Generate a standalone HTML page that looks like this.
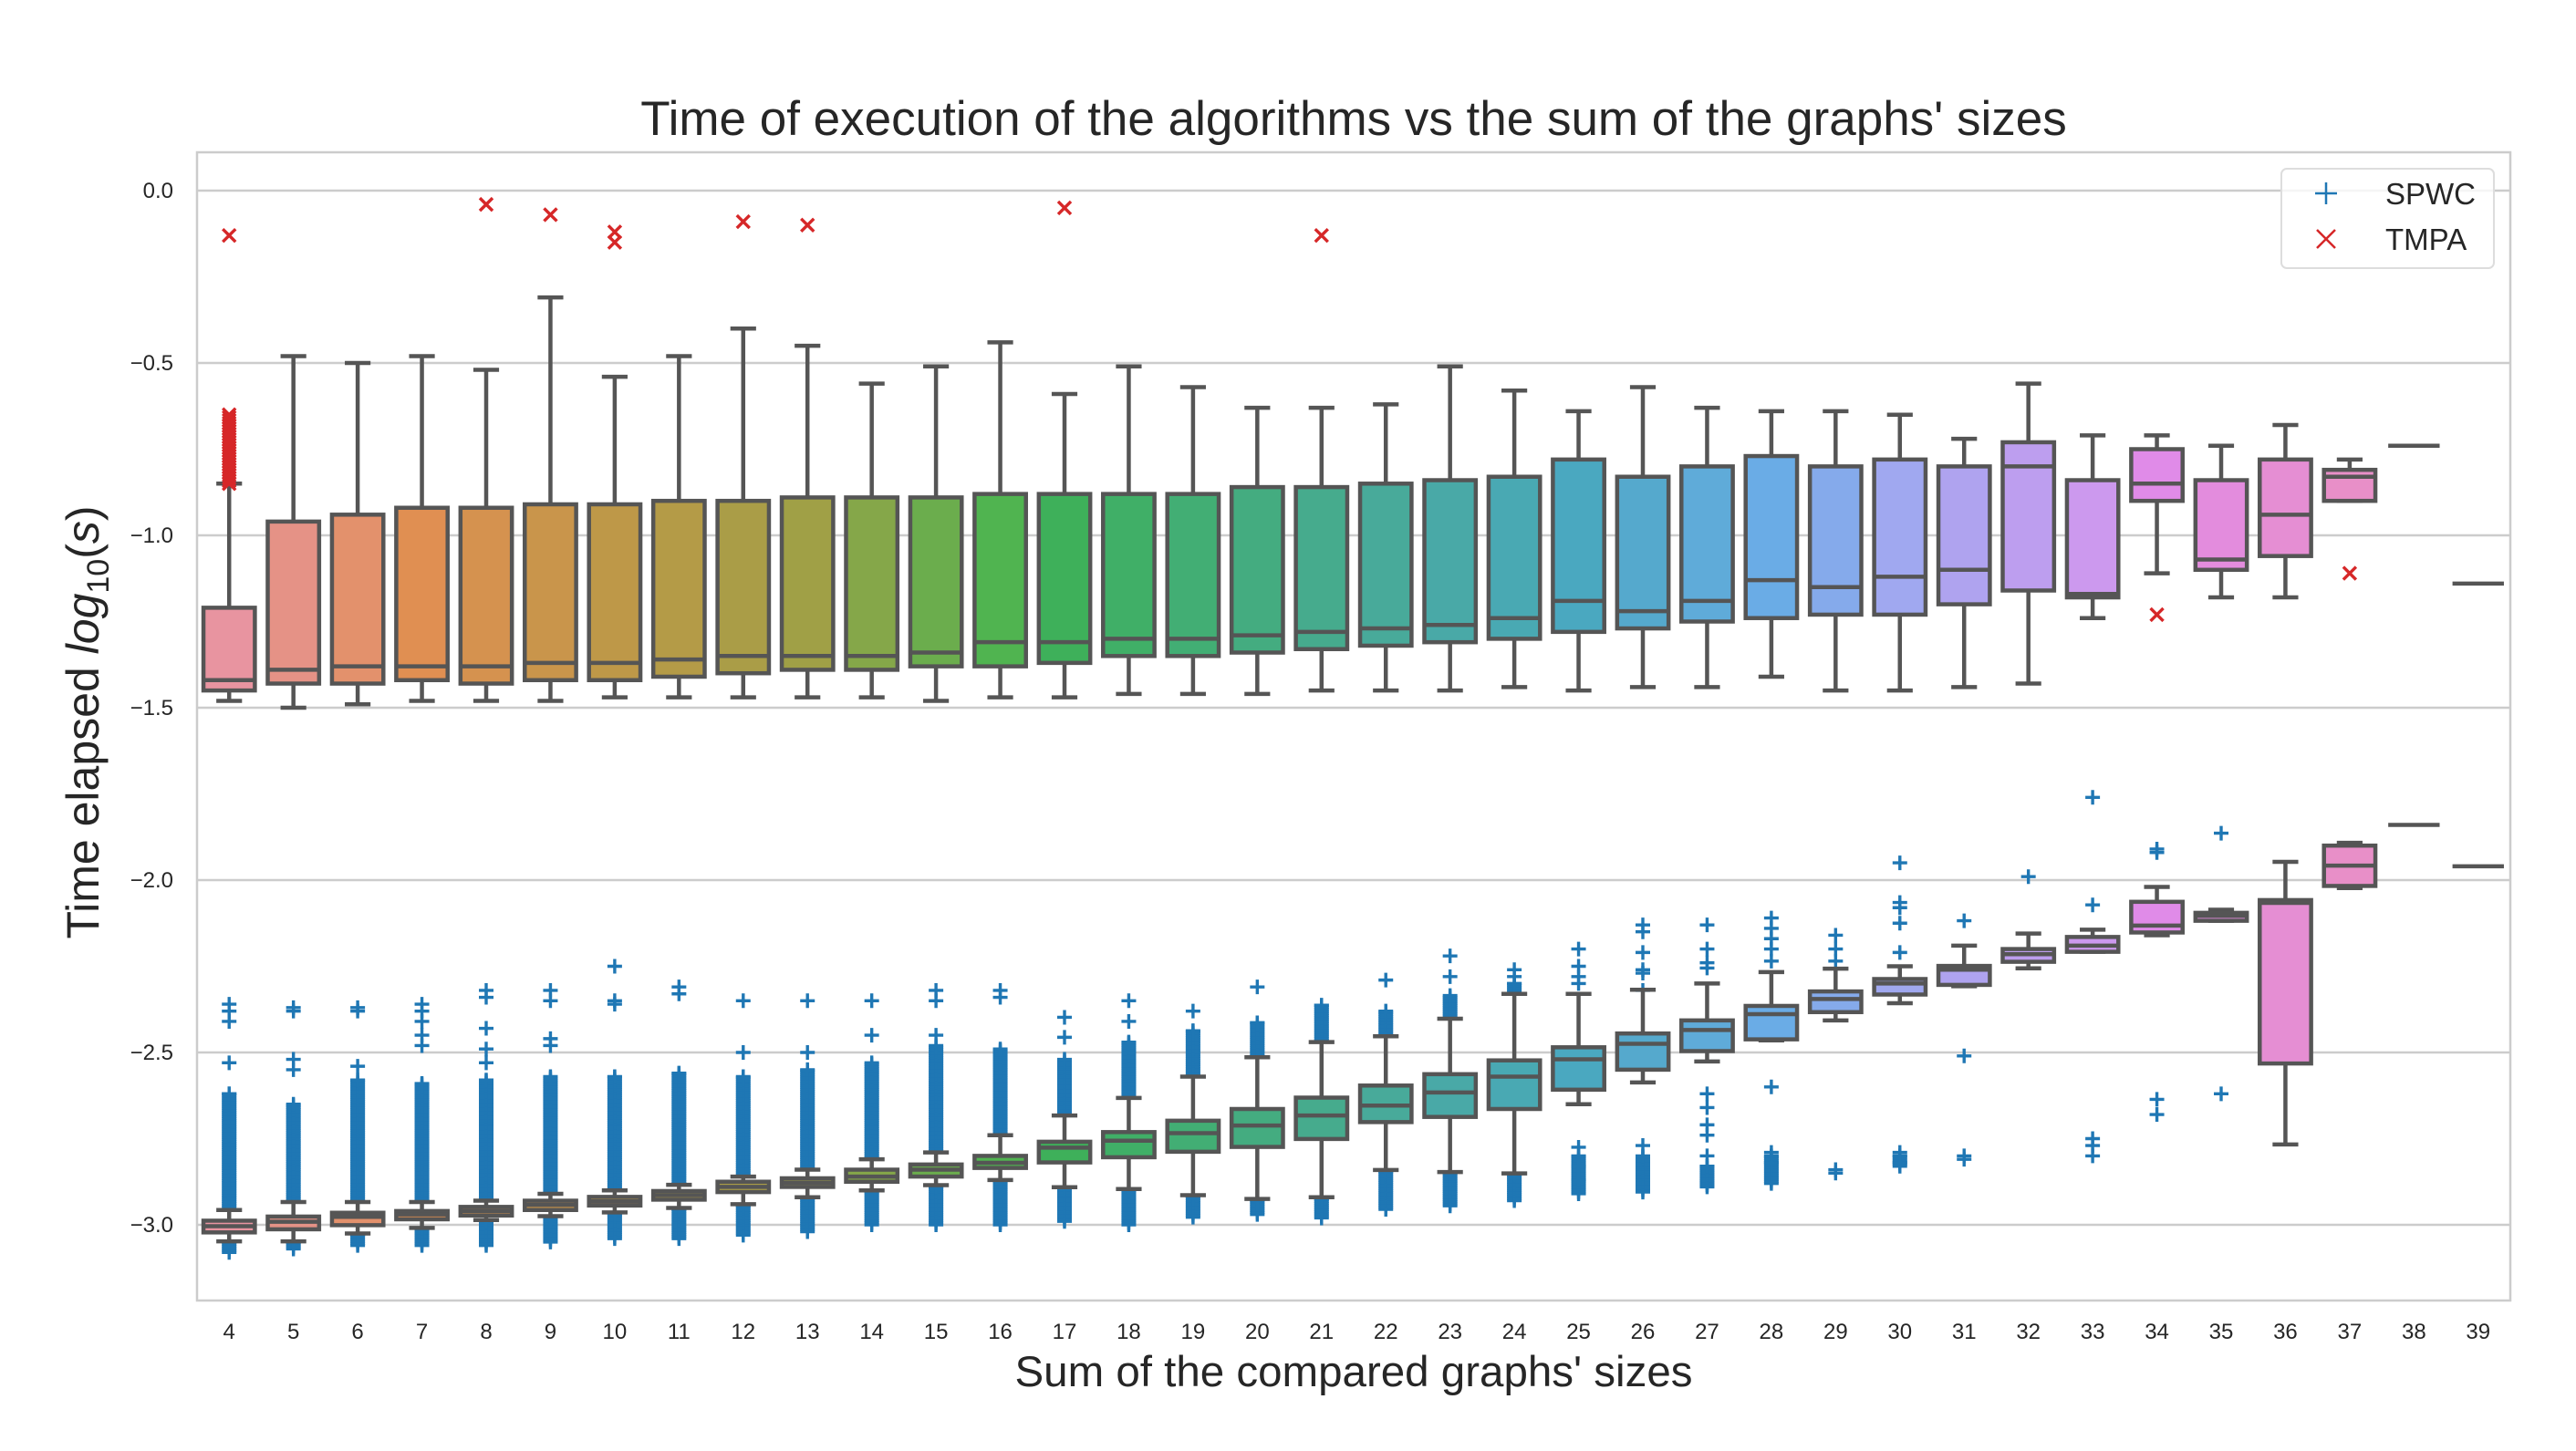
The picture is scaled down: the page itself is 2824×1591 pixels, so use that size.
<!DOCTYPE html>
<html><head><meta charset="utf-8"><style>
html,body{margin:0;padding:0;background:#fff;}
svg{display:block;font-family:"Liberation Sans",sans-serif;}
</style></head><body>
<svg id="chart" width="2824" height="1591" viewBox="0 0 2824 1591" xmlns="http://www.w3.org/2000/svg">
<rect x="0" y="0" width="2824" height="1591" fill="#fff"/>
<text x="1484" y="148" font-size="53" text-anchor="middle" fill="#262626">Time of execution of the algorithms vs the sum of the graphs' sizes</text>
<text transform="translate(108,792) rotate(-90)" font-size="50" text-anchor="middle" fill="#262626">Time elapsed <tspan font-style="italic">log</tspan><tspan font-size="34" dy="11">10</tspan><tspan dy="-11">(</tspan><tspan font-style="italic">s</tspan>)</text>
<text x="1484" y="1520" font-size="47.5" text-anchor="middle" fill="#262626">Sum of the compared graphs' sizes</text>
<g id="grid"></g>
<g id="marks"></g>
<g id="ticks"></g>
<rect x="216" y="167" width="2536" height="1259" fill="none" stroke="#cccccc" stroke-width="2.5"/>
<g>
<rect x="2501" y="185" width="233" height="109" rx="6" fill="#fff" fill-opacity="0.8" stroke="#dddddd" stroke-width="2"/>
<g>
<path d="M2538,212 h24 M2550,200 v24" stroke="#1f77b4" stroke-width="2.5"/>
<text x="2615" y="224" font-size="33" fill="#262626">SPWC</text></g>
<g>
<path d="M2540,252 l20,20 M2560,252 l-20,20" stroke="#d62728" stroke-width="2.5"/>
<text x="2615" y="274" font-size="33" fill="#262626">TMPA</text></g>
</g>
</svg>
<script>
const categories = [4,5,6,7,8,9,10,11,12,13,14,15,16,17,18,19,20,21,22,23,24,25,26,27,28,29,30,31,32,33,34,35,36,37,38,39];
const yTicks = [0.0,-0.5,-1.0,-1.5,-2.0,-2.5,-3.0];
const yTickLabels = ["0.0","\u22120.5","\u22121.0","\u22121.5","\u22122.0","\u22122.5","\u22123.0"];
const tmpaWhiskerLow = [-1.48,-1.50,-1.49,-1.48,-1.48,-1.48,-1.47,-1.47,-1.47,-1.47,-1.47,-1.48,-1.47,-1.47,-1.46,-1.46,-1.46,-1.45,-1.45,-1.45,-1.44,-1.45,-1.44,-1.44,-1.41,-1.45,-1.45,-1.44,-1.43,-1.24,-1.11,-1.18,-1.18,-0.90,-0.74,-1.14];
const tmpaQ1 = [-1.45,-1.43,-1.43,-1.42,-1.43,-1.42,-1.42,-1.41,-1.40,-1.39,-1.39,-1.38,-1.38,-1.37,-1.35,-1.35,-1.34,-1.33,-1.32,-1.31,-1.30,-1.28,-1.27,-1.25,-1.24,-1.23,-1.23,-1.20,-1.16,-1.18,-0.90,-1.10,-1.06,-0.90,-0.74,-1.14];
const tmpaMedian = [-1.42,-1.39,-1.38,-1.38,-1.38,-1.37,-1.37,-1.36,-1.35,-1.35,-1.35,-1.34,-1.31,-1.31,-1.30,-1.30,-1.29,-1.28,-1.27,-1.26,-1.24,-1.19,-1.22,-1.19,-1.13,-1.15,-1.12,-1.10,-0.80,-1.17,-0.85,-1.07,-0.94,-0.83,-0.74,-1.14];
const tmpaQ3 = [-1.21,-0.96,-0.94,-0.92,-0.92,-0.91,-0.91,-0.90,-0.90,-0.89,-0.89,-0.89,-0.88,-0.88,-0.88,-0.88,-0.86,-0.86,-0.85,-0.84,-0.83,-0.78,-0.83,-0.80,-0.77,-0.80,-0.78,-0.80,-0.73,-0.84,-0.75,-0.84,-0.78,-0.81,-0.74,-1.14];
const tmpaWhiskerHigh = [-0.85,-0.48,-0.50,-0.48,-0.52,-0.31,-0.54,-0.48,-0.40,-0.45,-0.56,-0.51,-0.44,-0.59,-0.51,-0.57,-0.63,-0.63,-0.62,-0.51,-0.58,-0.64,-0.57,-0.63,-0.64,-0.64,-0.65,-0.72,-0.56,-0.71,-0.71,-0.74,-0.68,-0.78,-0.74,-1.14];
const tmpaOutliers = [[0,-0.13],[4,-0.04],[5,-0.07],[6,-0.12],[6,-0.15],[8,-0.09],[9,-0.10],[13,-0.05],[17,-0.13],[30,-1.23],[33,-1.11]];
const tmpaDense = [[0,-0.85,-0.65]];
const spwcWhiskerLow = [-3.048,-3.048,-3.025,-3.009,-2.986,-2.975,-2.964,-2.951,-2.94,-2.92,-2.90,-2.885,-2.87,-2.891,-2.896,-2.914,-2.925,-2.92,-2.841,-2.847,-2.851,-2.65,-2.587,-2.526,-2.465,-2.407,-2.357,-2.308,-2.256,-2.208,-2.16,-2.118,-2.767,-2.023,-1.84,-1.96];
const spwcQ1 = [-3.022,-3.013,-3.001,-2.984,-2.973,-2.957,-2.944,-2.927,-2.905,-2.89,-2.875,-2.86,-2.835,-2.819,-2.804,-2.788,-2.774,-2.751,-2.702,-2.687,-2.664,-2.608,-2.55,-2.496,-2.462,-2.383,-2.332,-2.304,-2.237,-2.208,-2.152,-2.118,-2.532,-2.017,-1.84,-1.96];
const spwcMedian = [-3.004,-2.991,-2.977,-2.97,-2.96,-2.942,-2.932,-2.914,-2.89,-2.878,-2.86,-2.84,-2.82,-2.776,-2.756,-2.734,-2.712,-2.683,-2.654,-2.616,-2.57,-2.52,-2.475,-2.435,-2.389,-2.345,-2.30,-2.26,-2.215,-2.19,-2.132,-2.104,-2.066,-1.958,-1.84,-1.96];
const spwcQ3 = [-2.988,-2.976,-2.965,-2.96,-2.948,-2.93,-2.919,-2.902,-2.875,-2.865,-2.84,-2.825,-2.80,-2.759,-2.731,-2.698,-2.664,-2.631,-2.596,-2.563,-2.523,-2.485,-2.445,-2.407,-2.365,-2.323,-2.287,-2.249,-2.20,-2.165,-2.063,-2.095,-2.058,-1.90,-1.84,-1.96];
const spwcWhiskerHigh = [-2.957,-2.934,-2.934,-2.934,-2.93,-2.91,-2.90,-2.884,-2.86,-2.84,-2.81,-2.79,-2.74,-2.683,-2.632,-2.57,-2.514,-2.47,-2.453,-2.402,-2.33,-2.33,-2.318,-2.30,-2.267,-2.257,-2.25,-2.19,-2.155,-2.144,-2.02,-2.086,-1.947,-1.892,-1.84,-1.96];
const spwcDense = [[0,-2.95,-2.62],[0,-3.08,-3.05],[1,-2.93,-2.65],[1,-3.07,-3.05],[2,-2.93,-2.58],[2,-3.06,-3.03],[3,-2.93,-2.59],[3,-3.06,-3.01],[4,-2.925,-2.58],[4,-3.06,-2.99],[5,-2.905,-2.57],[5,-3.05,-2.98],[6,-2.895,-2.57],[6,-3.04,-2.97],[7,-2.88,-2.56],[7,-3.04,-2.955],[8,-2.855,-2.57],[8,-3.03,-2.945],[9,-2.835,-2.55],[9,-3.02,-2.925],[10,-2.805,-2.53],[10,-3.0,-2.905],[11,-2.785,-2.48],[11,-3.0,-2.89],[12,-2.735,-2.49],[12,-3.0,-2.875],[13,-2.68,-2.52],[13,-2.99,-2.895],[14,-2.63,-2.47],[14,-3.0,-2.90],[15,-2.565,-2.437],[15,-2.978,-2.918],[16,-2.51,-2.414],[16,-2.97,-2.93],[17,-2.465,-2.363],[17,-2.98,-2.925],[18,-2.45,-2.38],[18,-2.955,-2.845],[19,-2.40,-2.335],[19,-2.945,-2.85],[20,-2.33,-2.30],[20,-2.93,-2.855],[21,-2.91,-2.80],[22,-2.905,-2.80],[23,-2.89,-2.83],[24,-2.88,-2.80],[26,-2.83,-2.80]];
const spwcOutliers = [[0,-2.53],[0,-2.41],[0,-2.38],[0,-2.36],[1,-2.55],[1,-2.52],[1,-2.38],[1,-2.37],[2,-2.54],[2,-2.38],[2,-2.37],[3,-2.48],[3,-2.45],[3,-2.41],[3,-2.38],[3,-2.36],[4,-2.53],[4,-2.49],[4,-2.43],[4,-2.34],[4,-2.32],[5,-2.48],[5,-2.46],[5,-2.35],[5,-2.32],[6,-2.36],[6,-2.35],[6,-2.25],[7,-2.33],[7,-2.31],[8,-2.50],[8,-2.35],[9,-2.50],[9,-2.35],[10,-2.45],[10,-2.35],[11,-2.45],[11,-2.35],[11,-2.32],[12,-2.34],[12,-2.32],[13,-2.456],[13,-2.398],[14,-2.41],[14,-2.35],[15,-2.38],[16,-2.31],[18,-2.29],[19,-2.28],[19,-2.22],[20,-2.26],[20,-2.28],[21,-2.30],[21,-2.28],[21,-2.25],[21,-2.20],[21,-2.775],[21,-2.83],[21,-2.87],[22,-2.32],[22,-2.27],[22,-2.26],[22,-2.21],[22,-2.15],[22,-2.13],[22,-2.77],[23,-2.255],[23,-2.24],[23,-2.20],[23,-2.13],[23,-2.62],[23,-2.66],[23,-2.71],[23,-2.74],[23,-2.80],[24,-2.235],[24,-2.20],[24,-2.17],[24,-2.14],[24,-2.11],[24,-2.60],[24,-2.79],[24,-2.82],[25,-2.235],[25,-2.20],[25,-2.16],[25,-2.84],[25,-2.85],[26,-2.21],[26,-2.125],[26,-2.08],[26,-2.065],[26,-1.95],[26,-2.79],[26,-2.82],[27,-2.118],[27,-2.51],[27,-2.80],[27,-2.81],[28,-1.99],[29,-2.072],[29,-1.76],[29,-2.75],[29,-2.77],[29,-2.80],[30,-1.91],[30,-1.92],[30,-2.636],[30,-2.68],[31,-1.864],[31,-2.62]];

const NS='http://www.w3.org/2000/svg';
const X0=216, X1=2752, STEP=(X1-X0)/categories.length, BW=STEP*0.8;
function xScale(i){return X0+(i+0.5)*STEP;}
function yScale(v){return 209 - v*378;}
function mk(tag,attrs,parent){const e=document.createElementNS(NS,tag);for(const k in attrs)e.setAttribute(k,attrs[k]);parent.appendChild(e);return e;}
const anchors=[[0,[232,148,160]],[3,[224,143,82]],[6,[190,152,72]],[9,[160,160,70]],[12,[80,180,80]],[13,[62,176,90]],[18,[72,170,154]],[21,[74,168,192]],[24,[106,172,230]],[26,[160,168,240]],[29,[204,153,238]],[30,[224,139,232]],[33,[232,143,200]],[35,[232,143,200]]];
function colorAt(i){for(let k=0;k<anchors.length-1;k++){const a=anchors[k],b=anchors[k+1];if(i>=a[0]&&i<=b[0]){const t=(i-a[0])/(b[0]-a[0]||1);const c=a[1].map((v,j)=>Math.round(v+(b[1][j]-v)*t));return 'rgb('+c.join(',')+')';}}return 'rgb(232,143,200)';}

const grid=document.getElementById('grid'), marks=document.getElementById('marks'), ticks=document.getElementById('ticks');
yTicks.forEach((v,k)=>{
  const l=mk('line',{x1:X0,x2:X1,y1:yScale(v),y2:yScale(v),stroke:'#cccccc','stroke-width':2.5},grid);
  
  
  const t=mk('text',{x:190,y:yScale(v)+8,'font-size':24,'text-anchor':'end',fill:'#262626'},ticks);
  t.textContent=yTickLabels[k];
  
  
});
categories.forEach((c,i)=>{
  const t=mk('text',{x:xScale(i),y:1468,'font-size':24,'text-anchor':'middle',fill:'#262626'},ticks);
  t.textContent=String(c);
  
  
});
const EDGE='#555555', LW=4.5;
function drawBox(i,lo,q1,med,q3,hi,name){
  const g=mk('g',{},marks);
  
  
  const cx=xScale(i);
  if(q1===q3&&lo===hi){mk('line',{x1:cx-BW/2,x2:cx+BW/2,y1:yScale(med),y2:yScale(med),stroke:EDGE,'stroke-width':LW},g);return;}
  mk('line',{x1:cx,x2:cx,y1:yScale(hi),y2:yScale(q3),stroke:EDGE,'stroke-width':LW},g);
  mk('line',{x1:cx,x2:cx,y1:yScale(q1),y2:yScale(lo),stroke:EDGE,'stroke-width':LW},g);
  mk('line',{x1:cx-BW/4,x2:cx+BW/4,y1:yScale(hi),y2:yScale(hi),stroke:EDGE,'stroke-width':LW},g);
  mk('line',{x1:cx-BW/4,x2:cx+BW/4,y1:yScale(lo),y2:yScale(lo),stroke:EDGE,'stroke-width':LW},g);
  mk('rect',{x:cx-BW/2,y:yScale(q3),width:BW,height:Math.max(0.5,yScale(q1)-yScale(q3)),fill:colorAt(i),stroke:EDGE,'stroke-width':LW},g);
  mk('line',{x1:cx-BW/2,x2:cx+BW/2,y1:yScale(med),y2:yScale(med),stroke:EDGE,'stroke-width':LW},g);
}
function plus(i,v,g){const x=xScale(i),y=yScale(v);mk('path',{d:`M${x-8},${y}h16M${x},${y-8}v16`,stroke:'#1f77b4','stroke-width':3.4},g);}
function cross(i,v,g){const x=xScale(i),y=yScale(v);mk('path',{d:`M${x-7},${y-7}l14,14M${x+7},${y-7}l-14,14`,stroke:'#d62728','stroke-width':3.4},g);}
const so=mk('g',{},marks);


spwcDense.forEach(d=>{for(let v=d[1];v<=d[2]+1e-9;v+=0.006)plus(d[0],v,so);plus(d[0],d[2],so);});
spwcOutliers.forEach(p=>plus(p[0],p[1],so));
categories.forEach((c,i)=>drawBox(i,spwcWhiskerLow[i],spwcQ1[i],spwcMedian[i],spwcQ3[i],spwcWhiskerHigh[i],'spwc-box-'+c));
categories.forEach((c,i)=>drawBox(i,tmpaWhiskerLow[i],tmpaQ1[i],tmpaMedian[i],tmpaQ3[i],tmpaWhiskerHigh[i],'tmpa-box-'+c));
const to=mk('g',{},marks);


tmpaDense.forEach(d=>{for(let v=d[1];v<=d[2]+1e-9;v+=0.008)cross(d[0],v,to);});
tmpaOutliers.forEach(p=>cross(p[0],p[1],to));
</script>
</body></html>
